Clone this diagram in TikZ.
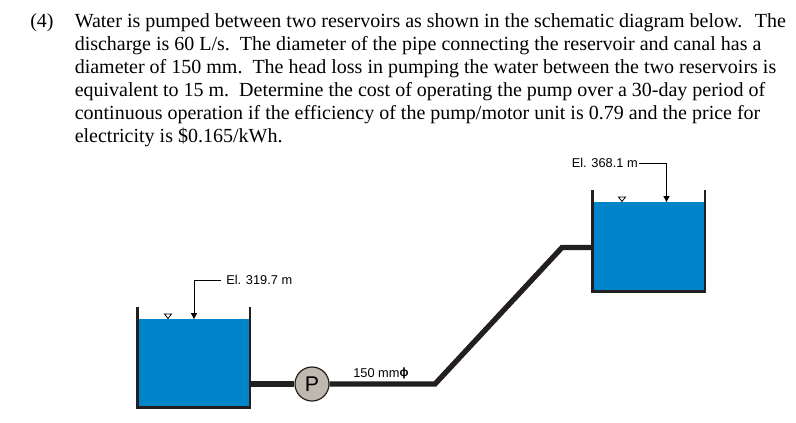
\documentclass[tikz,border=0pt]{standalone}
\usepackage{fontspec}
\setmainfont{Liberation Serif}
\setsansfont{Liberation Sans}
\definecolor{waterblue}{RGB}{0,133,202}
\definecolor{pumpgray}{RGB}{192,185,176}
\definecolor{walldark}{RGB}{35,31,32}
\tikzset{
  txtline/.style={anchor=base west,inner sep=0pt,font=\fontsize{15}{15}\selectfont},
  ellabel/.style={inner sep=0pt,font=\sffamily\fontsize{9.6}{10}\selectfont},
  tankwall/.style={line width=2pt,color=walldark,line cap=butt},
  pipeline/.style={line width=4pt,color=walldark,line join=miter},
  leader/.style={line width=0.6pt,black},
  pumpnode/.style={circle,draw=walldark,line width=0.9pt,fill=pumpgray,minimum size=25.5pt,inner sep=0pt,font=\sffamily\fontsize{16}{16}\selectfont}
}
\begin{document}
\begin{tikzpicture}[x=0.75pt,y=-0.75pt]
    \useasboundingbox (0,0) rectangle (796,422);
    % text of the problem
    \node[txtline] (num) at (30,27) {(4)};
    \node[txtline] (l1) at (74.5,27) {Water is pumped between two reservoirs as shown in the schematic diagram below.\ \ \hspace{2pt}The};
    \node[txtline] (l2) at (74.5,50) {discharge is 60 L/s.\ \ The diameter of the pipe connecting the reservoir and canal has a};
    \node[txtline] (l3) at (74.5,73) {diameter of 150 mm.\ \ The head loss in pumping the water between the two reservoirs is};
    \node[txtline] (l4) at (74.5,96) {equivalent to 15 m.\ \ Determine the cost of operating the pump over a 30-day period of};
    \node[txtline] (l5) at (74.5,119) {continuous operation if the efficiency of the pump/motor unit is 0.79 and the price for};
    \node[txtline] (l6) at (74.5,142) {electricity is \$0.165/kWh.};
    % left reservoir
    \fill[waterblue] (137,319) rectangle (250,407);
    \draw[tankwall] (137.5,307) -- (137.5,407.5) -- (250,407.5) -- (250,307);
    % right reservoir
    \fill[waterblue] (592,202) rectangle (705,291);
    \draw[tankwall] (592.5,190) -- (592.5,291.5) -- (705,291.5) -- (705,190);
    % pipe
    \node[pumpnode] (pump) at (312,384) {P};
    \coordinate (lout) at (251,384);
    \coordinate (bend1) at (435,384);
    \coordinate (bend2) at (562,247.5);
    \coordinate (rin) at (591,247.5);
    \draw[pipeline] (lout) -- (pump);
    \draw[pipeline] (pump) -- (bend1) -- (bend2) -- (rin);
    % labels
    \node[ellabel,anchor=base west] (elleft) at (226,284) {El. 319.7 m};
    \node[ellabel,anchor=base east] (elright) at (638,167) {El. 368.1 m};
    \node[ellabel,anchor=base west] (dia) at (353,377) {150 mm};
    \node[inner sep=0pt,font=\sffamily\bfseries\fontsize{9}{9}\selectfont,anchor=base] (phi) at (404,376.5) {ϕ};
    % elevation arrows
    \coordinate (cl) at (194,280);
    \coordinate (al) at (194,319);
    \coordinate (cr) at (666.5,163);
    \coordinate (ar) at (666.5,202);
    \draw[leader] (elleft.west |- cl) ++(-5,0) -- (cl) -- (194,314);
    \fill[black] (al) -- (190.8,313) -- (197.2,313) -- cycle;
    \draw[leader] (elright.east |- cr) ++(1,0) -- (cr) -- (666.5,197);
    \fill[black] (ar) -- (663.3,196) -- (669.7,196) -- cycle;
    % water level marks
    \draw[line width=0.6pt,black] (164.5,314) -- (171.5,314) -- (168,318.5) -- cycle;
    \draw[line width=0.6pt,black] (618.5,197) -- (625.5,197) -- (622,201.5) -- cycle;
\end{tikzpicture}
\end{document}
